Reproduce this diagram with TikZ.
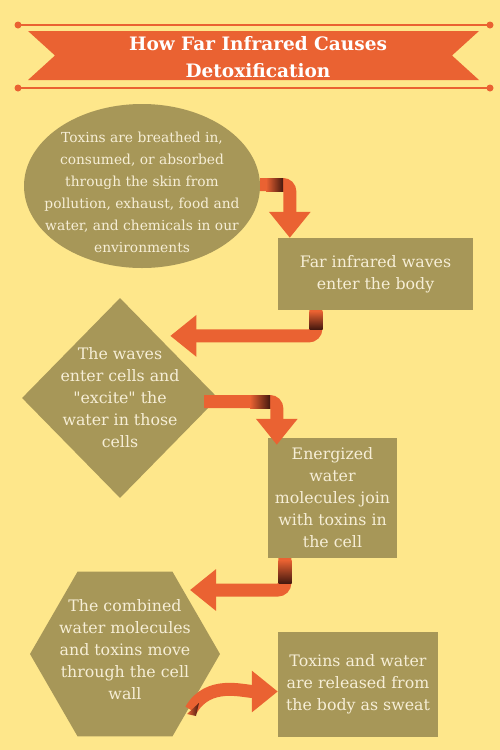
\documentclass[tikz,border=0pt]{standalone}
\usepackage{fontspec}
\setmainfont{DejaVu Serif}
\usetikzlibrary{shapes.geometric,arrows.meta,calc}
\definecolor{paper}{RGB}{254,231,139}
\definecolor{olive}{RGB}{167,151,88}
\definecolor{flame}{RGB}{234,98,50}
\definecolor{cream}{RGB}{246,238,214}
\definecolor{umber}{RGB}{70,25,15}

\begin{document}
\begin{tikzpicture}[x=1pt, y=-1pt,
    shapebox/.style={fill=olive, inner sep=0pt},
    stepbox/.style={shapebox, rectangle, text=cream, align=center, font=\fontsize{15.8}{22}\selectfont},
    words/.style={text=cream, align=center, font=\fontsize{15.8}{22}\selectfont},
    flow/.style={draw=flame, line width=13pt, rounded corners=7pt, -{Triangle[width=40pt, length=26pt]}},
    twistH/.style={left color=flame, right color=umber},
    twistV/.style={top color=flame, bottom color=umber}]

    % page
    \fill[paper] (0,0) rectangle (500,750);
    \useasboundingbox (0,0) rectangle (500,750);

    % banner
    \draw[flame, line width=2pt] (18,25) -- (490,25);
    \draw[flame, line width=2pt] (18,88) -- (490,88);
    \foreach \px/\py in {18/25, 490/25, 18/88, 490/88}
        \fill[flame] (\px,\py) circle (3.5pt);
    \fill[flame] (28,31) -- (479,31) -- (452,55.5) -- (479,80) -- (28,80) -- (55,55.5) -- cycle;
    \node[text=white, align=center, font=\bfseries\fontsize{18.5}{27}\selectfont] (title) at (258,57) {How Far Infrared Causes\\Detoxification};

    % steps
    \node[shapebox, ellipse, minimum width=236pt, minimum height=164pt] (ell) at (142,186) {};
    \node[words, font=\fontsize{13.8}{22}\selectfont] (elltext) at ([yshift=-6pt]ell.center) {Toxins are breathed in,\\consumed, or absorbed\\through the skin from\\pollution, exhaust, food and\\water, and chemicals in our\\environments};

    \node[stepbox, minimum width=195pt, minimum height=72pt] (box2) at (375.5,274) {Far infrared waves\\enter the body};

    \node[shapebox, diamond, minimum width=196pt, minimum height=200pt] (dia) at (120,398) {};
    \node[words] (diatext) at (dia.center) {The waves\\enter cells and\\\textquotedbl excite\textquotedbl{} the\\water in those\\cells};

    \node[stepbox, minimum width=129pt, minimum height=120pt] (box4) at (332.5,498) {Energized\\water\\molecules join\\with toxins in\\the cell};

    \node[shapebox, regular polygon, regular polygon sides=6, minimum size=190pt] (hex) at (125,654) {};
    \node[words] (hextext) at ([yshift=4pt]hex.center) {The combined\\water molecules\\and toxins move\\through the cell\\wall};

    \node[stepbox, minimum width=160pt, minimum height=105pt] (box6) at (358,684.5) {Toxins and water\\are released from\\the body as sweat};

    % arrows
    \draw[flow] ([yshift=1.5pt]ell.east) -| ([xshift=12pt]box2.north west);
    \shade[twistH] (266,178) rectangle (283,191);

    \draw[flow] ([xshift=38pt]box2.south west) |- ($(dia.north)!.38!(dia.east)+(13,0)$);
    \shade[twistV] (309.5,311) rectangle (322.5,329);

    \draw[flow] ([xshift=-14pt,yshift=-3.5pt]dia.east) -| ([xshift=9pt,yshift=-7pt]box4.north west);
    \shade[twistH] (250,395) rectangle (270,408);

    \draw[flow] ([xshift=17pt]box4.south west) |- ([shift={(65,-64)}]hex.center);
    \shade[twistV] (278.5,560) rectangle (291.5,583);

    \draw[flow] ([shift={(66,56)}]hex.center) to[out=60, in=180] ([yshift=-7pt]box6.west);
    \shade[twistH] (187,714) -- (199,703) -- (196,716) -- cycle;
\end{tikzpicture}
\end{document}
